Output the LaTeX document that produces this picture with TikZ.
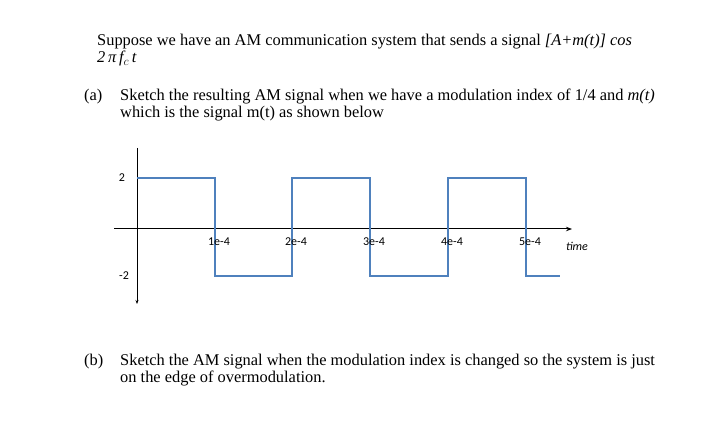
\documentclass[tikz,border=0pt]{standalone}
\usepackage{fontspec}
\usetikzlibrary{arrows.meta}
\setmainfont{Liberation Serif}
\newfontfamily\calib{Carlito}
\tikzset{txt/.style={anchor=base west,inner sep=0pt,font=\fontsize{16.4}{18}\selectfont},
 lbl/.style={inner sep=0pt,font=\calib\fontsize{12}{14}\selectfont},
 sig/.style={draw={rgb,255:red,79;green,129;blue,189},line width=1.3pt}}
\begin{document}
\begin{tikzpicture}[x=1pt,y=-1pt]
\useasboundingbox[fill=white] (0,0) rectangle (717,430);
\node[txt] (l1) at (97,46) {Suppose we have an AM communication system that sends a signal \textit{[A+m(t)] cos}};
\node[txt] (l2) at (97,63) {\textit{2\,π\,f$_c$\,t}};
\node[txt] (a) at (84,101) {(a)};
\node[txt] (a1) at (120,101) {Sketch the resulting AM signal when we have a modulation index of 1/4 and \textit{m(t)}};
\node[txt] (a2) at (120,118) {which is the signal m(t) as shown below};
\node[txt] (b) at (84,365) {(b)};
\node[txt] (b1) at (120,365) {Sketch the AM signal when the modulation index is changed so the system is just};
\node[txt] (b2) at (120,382) {on the edge of overmodulation.};
\coordinate (xs) at (114,229); \coordinate (xe) at (572,229);
\coordinate (ys) at (137,148); \coordinate (ye) at (137,304);
\draw[line width=1pt,-{Stealth[length=6pt]}] (xs) -- (xe);
\draw[line width=1pt,-{Stealth[length=4pt]}] (ys) -- (ye);
\draw[sig] (137,178) -- (215,178) -- (215,276) -- (292,276) -- (292,178) -- (370,178) -- (370,276) -- (448,276) -- (448,178) -- (526,178) -- (526,276) -- (560,276);
\node[lbl] (t2) at (122,178) {2};
\node[lbl] (tm2) at (124,276) {-2};
\foreach \x/\t in {215/1e-4,292/2e-4,370/3e-4,448/4e-4,526/5e-4}
  \node[lbl] (k\t) at (\x+4,242) {\t};
\node[lbl] (time) at (577,246) {\textit{time}};
\end{tikzpicture}
\end{document}
